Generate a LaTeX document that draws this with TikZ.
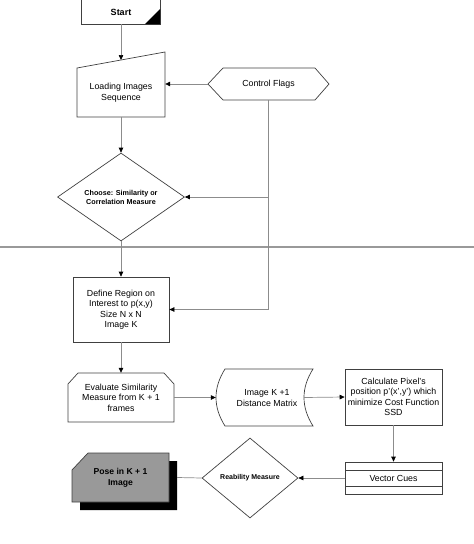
\documentclass[tikz,border=0pt]{standalone}
\usepackage{fontspec}
\setmainfont{Liberation Sans}
\usetikzlibrary{arrows.meta,shapes.geometric,calc}
\begin{document}
\begin{tikzpicture}[x=1pt,y=-1pt,
  txt/.style={font=\fontsize{8.8}{10.5}\selectfont, align=center, inner sep=0pt},
  box/.style={draw=black!75, line width=0.7pt},
  conn/.style={draw=black!45, line width=0.7pt, -{Triangle[length=5pt,width=4.5pt,color=black]}},
  plain/.style={draw=black!45, line width=0.7pt},
  holder/.style={inner sep=0pt, align=center},
  dia/.style={diamond, draw=black!75, line width=0.7pt, inner sep=0pt, align=center}
]
\useasboundingbox (0,0) rectangle (474,544);

% Start
\node[holder, minimum width=79pt, minimum height=24pt, font=\bfseries\fontsize{9}{11}\selectfont] (start) at (121,12) {Start};
\draw[box] (81,-3) -- (81,24) -- (160,24) -- (160,-3);
\fill[black] (160,24) -- (160,9) -- (145,24) -- cycle;

% Loading
\node[txt, minimum width=88pt, minimum height=49pt] (load) at (121,92.5) {Loading Images\\Sequence};
\draw[box] (77,68) -- (165,52) -- (165,117) -- (77,117) -- cycle;
\coordinate (loadtop) at (121,60);

% Control flags
\node[txt, minimum width=121pt, minimum height=32pt] (flags) at (268.5,84) {Control Flags};
\draw[box] (208,84) -- (223,68) -- (315,68) -- (329,84) -- (315,100) -- (223,100) -- cycle;

% Choose
\node[dia, aspect=1.44, minimum width=127pt, minimum height=88pt, font=\bfseries\fontsize{7.2}{9}\selectfont] (choose) at (121,197) {Choose: Similarity or\\Correlation Measure};

% divider
\draw[line width=1.2pt, black!40] (0,247) -- (474,247);

% Define
\node[box, txt, minimum width=96pt, minimum height=65pt] (define) at (121,309.5) {Define Region on\\Interest to p(x,y)\\Size N x N\\Image K};

% Evaluate
\node[txt, minimum width=106pt, minimum height=49pt] (eval) at (121,397.5) {Evaluate Similarity\\Measure from K + 1\\frames};
\draw[box] (68,384) -- (78,373) -- (164,373) -- (174,384) -- (174,422) -- (68,422) -- cycle;

% Image K+1
\node[holder, minimum width=88pt, minimum height=57pt] (img) at (260,397.5) {};
\node[txt] (imgtxt) at (267,398) {Image K +1\\Distance Matrix};
\draw[box] (225,369) -- (313,369) .. controls (301,388) and (301,407) .. (313,426) -- (225,426) .. controls (213,407) and (213,388) .. (225,369) -- cycle;

% Calculate
\node[box, txt, minimum width=97pt, minimum height=56pt] (calc) at (393.5,397) {Calculate Pixel's\\position p'(x',y') which\\minimize Cost Function\\SSD};

% Vector cues
\node[box, txt, minimum width=97pt, minimum height=32pt] (vec) at (393.5,478) {Vector Cues};
\draw[box] (345,470) -- (442,470) (345,486) -- (442,486);

% Reability
\node[dia, aspect=1.2, minimum width=96pt, minimum height=80pt, font=\bfseries\fontsize{7}{9}\selectfont] (rea) at (250,478) {Reability Measure};

% Pose
\fill[black] (80,478) -- (96,461) -- (177,461) -- (177,510) -- (80,510) -- cycle;
\draw[black!75, fill=black!40, line width=0.7pt] (72,470) -- (88,453) -- (169,453) -- (169,502) -- (72,502) -- cycle;
\node[holder, minimum width=97pt, minimum height=49pt, font=\bfseries\fontsize{8.6}{11}\selectfont] (pose) at (120.5,477.5) {Pose in K + 1\\Image};

% connectors
\draw[conn] (start.south) -- (loadtop);
\draw[conn] (flags.west) -- (flags.west -| load.east);
\draw[conn] (load.south) -- (choose.north);
\draw[conn] (flags.south) |- (define.east);
\draw[conn] (flags.south |- choose.east) -- (choose.east);
\draw[conn] (choose.south) -- (define.north);
\draw[conn] (define.south) -- (eval.north);
\draw[conn] (eval.east) -- (img.west);
\draw[conn] (img.east) -- (calc.west);
\draw[conn] (calc.south) -- (vec.north);
\draw[conn] (vec.west) -- (rea.east);
\draw[plain] (rea.west) -- ([xshift=8pt]pose.east);
\end{tikzpicture}
\end{document}
